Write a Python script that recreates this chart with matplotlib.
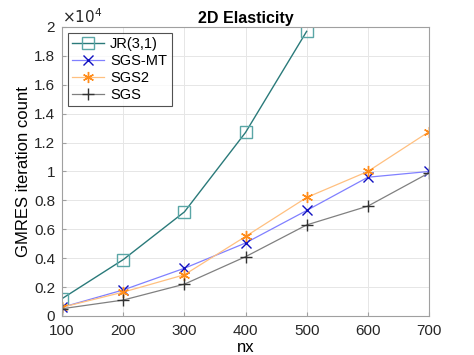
import matplotlib
matplotlib.use("Agg")
import matplotlib.pyplot as plt

plt.rcParams['font.family'] = ['Liberation Sans', 'DejaVu Sans']

nx = [100, 200, 300, 400, 500, 600, 700]
nx_jr = [100, 200, 300, 400, 500]
jr = [1200, 3900, 7200, 12700, 19700]
sgs_mt = [600, 1800, 3300, 5050, 7300, 9600, 10000]
sgs2 = [600, 1650, 2850, 5500, 8200, 10000, 12750]
sgs = [500, 1100, 2200, 4100, 6300, 7600, 9900]

fig = plt.figure(figsize=(4.74, 3.55), dpi=100)
ax = fig.add_axes([0.131, 0.110, 0.774, 0.814])

ax.plot(nx_jr, jr, color='#2a7a7a', lw=1.0, marker='s', ms=9, mfc='none',
        mec='#5aa6a6', mew=1.0, label='JR(3,1)')
ax.plot(nx, sgs_mt, color='#8080ff', lw=0.9, marker='x', ms=7, mec='#1010c0',
        mew=1.0, label='SGS-MT')
ax.plot(nx, sgs2, color='#ffc080', lw=0.9, marker=(6, 2, 0), ms=8, mec='#ff8c1a',
        mew=1.0, label='SGS2')
ax.plot(nx, sgs, color='#808080', lw=0.9, marker='+', ms=9, mec='#333333',
        mew=1.0, label='SGS')

ax.set_xlim(100, 700)
ax.set_ylim(0, 20000)
ax.set_xticks([100, 200, 300, 400, 500, 600, 700])
ax.set_yticks([0, 2000, 4000, 6000, 8000, 10000, 12000, 14000, 16000, 18000, 20000])
ax.set_yticklabels(['0', '0.2', '0.4', '0.6', '0.8', '1', '1.2', '1.4', '1.6', '1.8', '2'])
ax.text(0.0, 1.005, r'$\times10^4$', transform=ax.transAxes, ha='left', va='bottom',
        fontsize=11, color='#262626')

ax.grid(True, color='#e6e6e6', lw=0.7)
ax.set_axisbelow(True)
for s in ax.spines.values():
    s.set_color('#a0a0a0')
    s.set_linewidth(0.8)
ax.tick_params(direction='in', labelsize=11, colors='#262626', length=3)
ax.tick_params(axis='both', color='#a0a0a0')
ax.tick_params(axis='x', pad=6)
ax.tick_params(axis='y', pad=5)

ax.set_title('2D Elasticity', fontsize=11.5, fontweight='bold', pad=3)
ax.set_xlabel('nx', fontsize=12, labelpad=1)
ax.set_ylabel('GMRES iteration count', fontsize=12, labelpad=2)

leg = ax.legend(loc='upper left', fontsize=10.5, frameon=True, fancybox=False,
                edgecolor='#262626', handlelength=2.2, borderpad=0.3,
                labelspacing=0.2, handletextpad=0.4, borderaxespad=0.4)
leg.get_frame().set_linewidth(0.8)

fig.savefig('out.png', dpi=100)
